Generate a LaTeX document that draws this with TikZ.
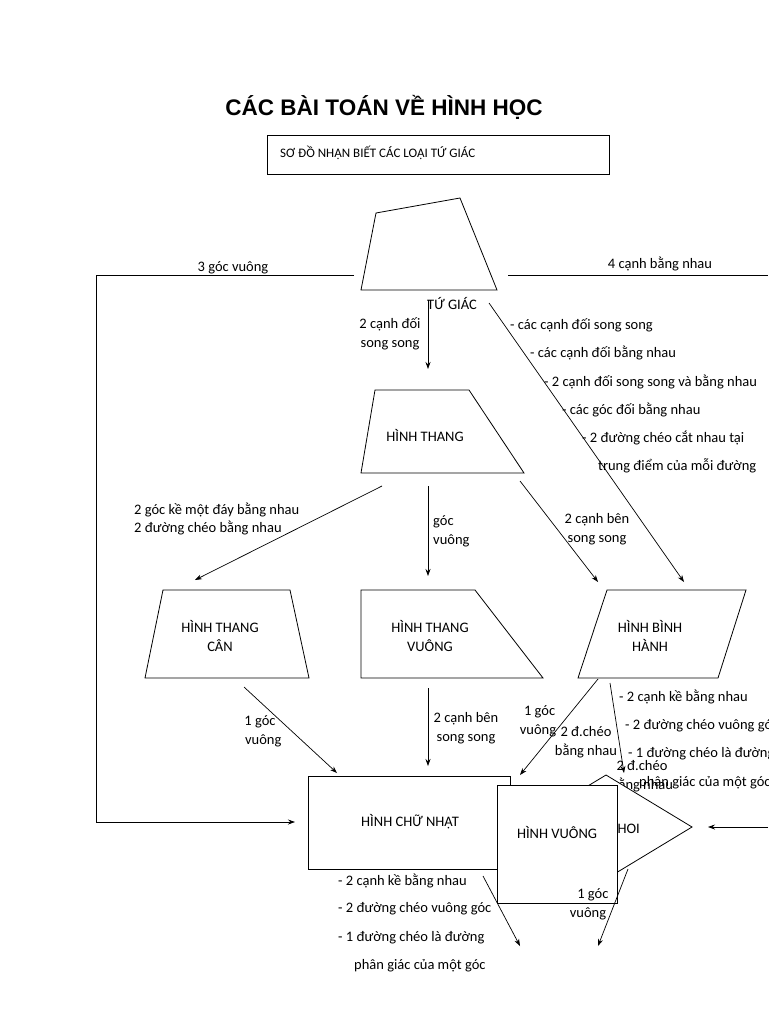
\documentclass[tikz,border=0pt]{standalone}
\usepackage{fontspec}
\setmainfont{Carlito}
\newfontfamily\titlefont{Liberation Sans}
\usetikzlibrary{arrows.meta}
\begin{document}
\begin{tikzpicture}[x=1pt,y=-1pt,
  shp/.style={draw,line width=0.8pt},
  arr/.style={draw,line width=0.7pt,-{Stealth[length=7pt,width=5pt]}},
  ln/.style={draw,line width=0.7pt},
  lbl/.style={font=\fontsize{14.5}{19}\selectfont,inner sep=0pt,align=left},
  lblc/.style={font=\fontsize{14.5}{19}\selectfont,inner sep=0pt,align=center},
  L/.style={lbl,anchor=west}]
\useasboundingbox (0,0) rectangle (768,1024);
\node[font=\titlefont\bfseries\fontsize{22.5}{26}\selectfont] (title) at (384,107) {CÁC BÀI TOÁN VỀ HÌNH HỌC};
\draw[shp] (267,135) rectangle (609,174);
\node[L,font=\fontsize{13}{15}\selectfont] (sodo) at (280,153) {SƠ ĐỒ NHẬN BIẾT CÁC LOẠI TỨ GIÁC};
% Tu giac
\draw[shp] (376,213) -- (460,198) -- (497,290) -- (361,290) -- cycle;
\node[lblc] (tugiac) at (452,303) {TỨ GIÁC};
% side lines
\coordinate (tgL) at (354,275); \coordinate (bendL) at (96,275); \coordinate (bendL2) at (96,822); \coordinate (hcnL) at (295,822);
\draw[ln] (tgL) -- (bendL) -- (bendL2);
\draw[arr] (bendL2) -- (hcnL);
\node[lblc] (g3) at (233,268) {3 góc vuông};
\coordinate (tgR) at (508,275); \coordinate (edgeR) at (768,275);
\draw[ln] (tgR) -- (edgeR);
\node[lblc] (c4) at (660,264) {4 cạnh bằng nhau};
\coordinate (edgeR2) at (768,827); \coordinate (thoiR) at (708,827);
\draw[arr] (edgeR2) -- (thoiR);
% tu giac -> hinh thang
\coordinate (a1) at (428,300); \coordinate (a2) at (428,369);
\draw[arr] (a1) -- (a2);
\node[lblc] (t1) at (390,334) {2 cạnh đối\\song song};
% tu giac -> binh hanh
\coordinate (b1) at (489,303); \coordinate (b2) at (684,582);
\draw[arr] (b1) -- (b2);
\node[L] (d1) at (510,325) {- các cạnh đối song song};
\node[L] (d2) at (530,353) {- các cạnh đối bằng nhau};
\node[L] (d3) at (544,382) {- 2 cạnh đối song song và bằng nhau};
\node[L] (d4) at (562,410) {- các góc đối bằng nhau};
\node[L] (d5) at (582,438) {- 2 đường chéo cắt nhau tại};
\node[L] (d6) at (598,466) {trung điểm của mỗi đường};
% hinh thang
\draw[shp] (375,390) -- (469,390) -- (524,473) -- (361,473) -- cycle;
\node[lblc] (ht) at (425,435) {HÌNH THANG};
\coordinate (c1) at (382,486); \coordinate (c2) at (195,580);
\coordinate (c3) at (428,486); \coordinate (c4b) at (428,576);
\coordinate (c5) at (520,481); \coordinate (c6) at (598,582);
\draw[arr] (c1) -- (c2); \draw[arr] (c3) -- (c4b); \draw[arr] (c5) -- (c6);
\node[L] (e1) at (134,510) {2 góc kề một đáy bằng nhau};
\node[L] (e2) at (134,528) {2 đường chéo bằng nhau};
\node[L] (e3) at (433,531) {góc\\vuông};
\node[lblc] (e4) at (597,529) {2 cạnh bên\\song song};
% row 3
\draw[shp] (163,590) -- (290,590) -- (309,678) -- (145,678) -- cycle;
\node[lblc] (htc) at (220,636) {HÌNH THANG\\CÂN};
\draw[shp] (361,590) -- (475,590) -- (543,678) -- (361,678) -- cycle;
\node[lblc] (htv) at (430,636) {HÌNH THANG\\VUÔNG};
\draw[shp] (607,590) -- (746,590) -- (718,678) -- (578,678) -- cycle;
\node[lblc] (hbh) at (650,636) {HÌNH BÌNH\\HÀNH};
% arrows to HCN etc
\coordinate (f1) at (244,687); \coordinate (f2) at (337,773);
\coordinate (f3) at (428,688); \coordinate (f4) at (428,766);
\coordinate (f5) at (598,679); \coordinate (f6) at (520,775);
\coordinate (f7) at (610,683); \coordinate (f8) at (624,773);
\draw[arr] (f1) -- (f2); \draw[arr] (f3) -- (f4); \draw[arr] (f5) -- (f6); \draw[arr] (f7) -- (f8);
\node[lblc] (g1) at (260,731) {1 góc\\\ \ vuông};
\node[lblc] (g2) at (466,728) {2 cạnh bên\\song song};
\node[lblc] (g3b) at (538,721) {\ 1 góc\\vuông};
\node[lblc] (g4) at (586,742) {2 đ.chéo\\bằng nhau};
\node[L] (h1) at (619,697) {- 2 cạnh kề bằng nhau};
\node[L] (h2) at (625,726) {- 2 đường chéo vuông góc};
\node[L] (h3) at (628,754) {- 1 đường chéo là đường};
\node[L] (h4) at (639,783) {phân giác của một góc};
\node[lblc] (h5) at (642,776) {2 đ.chéo\\bằng nhau};
% HCN, thoi, vuong
\draw[shp,fill=white] (308,776) rectangle (510,869);
\node[lblc] (hcn) at (410,822) {HÌNH CHỮ NHẬT};
\draw[shp,fill=white] (520,827) -- (606,775) -- (692,827) -- (606,879) -- cycle;
\node[lblc] (thoi) at (608,827) {HÌNH THOI};
\draw[shp,fill=white] (497,785) rectangle (617,903);
\node[lblc] (hv) at (557,832) {HÌNH VUÔNG};
% bottom
\coordinate (k1) at (483,876); \coordinate (k2) at (520,946);
\coordinate (k3) at (628,869); \coordinate (k4) at (598,946);
\draw[arr] (k1) -- (k2); \draw[arr] (k3) -- (k4);
\node[L] (m1) at (338,881) {- 2 cạnh kề bằng nhau};
\node[L] (m2) at (338,909) {- 2 đường chéo vuông góc};
\node[L] (m3) at (338,938) {- 1 đường chéo là đường};
\node[L] (m4) at (354,966) {phân giác của một góc};
\node[lblc] (m5) at (588,904) {\ \ \ 1 góc\\vuông};
\end{tikzpicture}
\end{document}
